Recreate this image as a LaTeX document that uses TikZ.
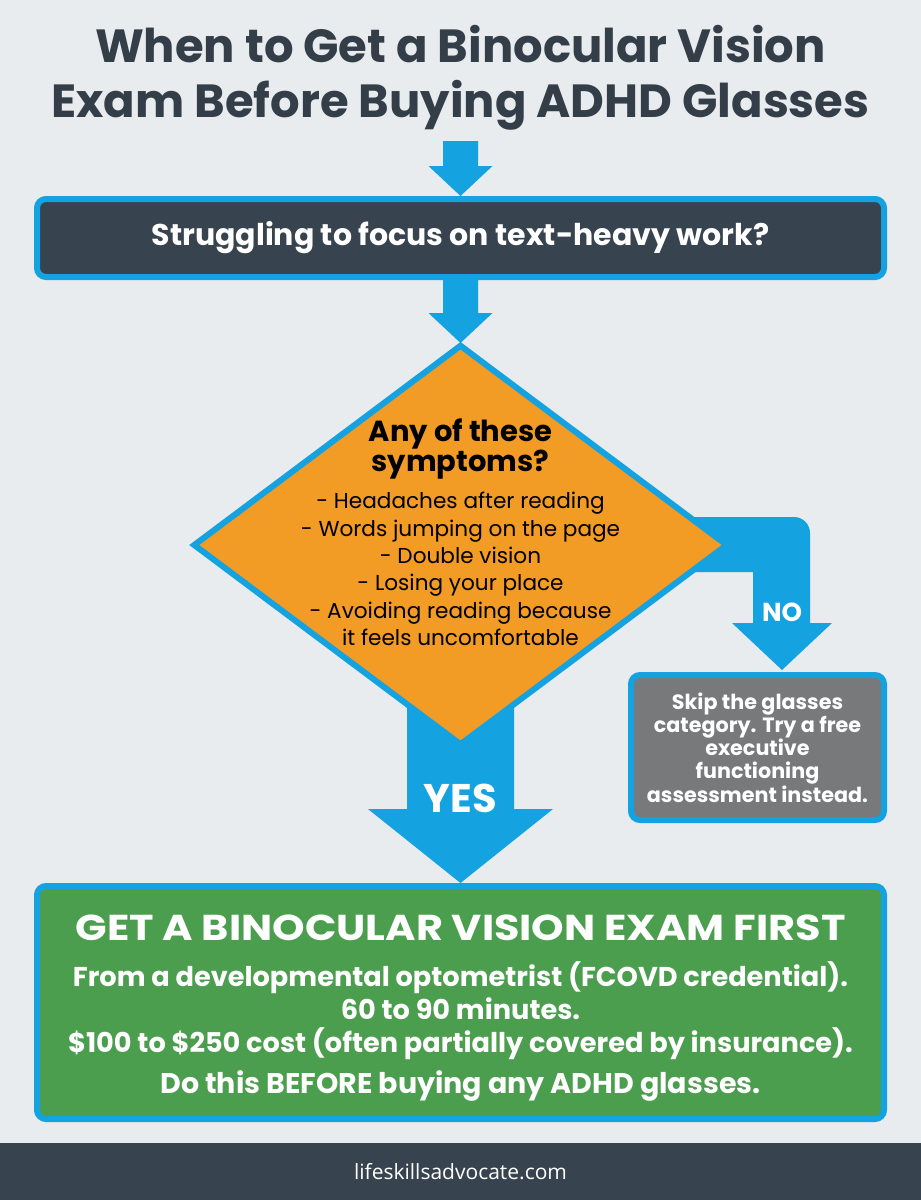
\documentclass[tikz,border=0pt]{standalone}
\usepackage{fontspec}
\setmainfont{Poppins}
\newfontfamily\footfont{Open Sans}
\usetikzlibrary{calc,shapes.geometric}
\definecolor{bgc}{HTML}{E9ECEE}
\definecolor{darkc}{HTML}{37434F}
\definecolor{titlec}{HTML}{343E48}
\definecolor{bluec}{HTML}{14A2E0}
\definecolor{orangec}{HTML}{F29B25}
\definecolor{grayc}{HTML}{77797B}
\definecolor{greenc}{HTML}{4B9E4E}
\newcommand\blockdown[5]{\fill[bluec] let \p1=(#1), \p2=(#2) in
 (\x1-#3pt,\y1) -- (\x1+#3pt,\y1) -- (\x1+#3pt,\y2+#5pt) -- (\x1+#4pt,\y2+#5pt)
 -- (\x1,\y2) -- (\x1-#4pt,\y2+#5pt) -- (\x1-#3pt,\y2+#5pt) -- cycle;}
\tikzset{
 panel/.style={draw=bluec, line width=6pt, rounded corners=9pt, inner sep=0pt},
 wtext/.style={text=white, align=center},
 titletext/.style={anchor=base, text=titlec, font=\fontsize{46.5}{50}\selectfont\bfseries},
}
\begin{document}
\begin{tikzpicture}[x=1pt,y=-1pt]
\fill[bgc] (0,0) rectangle (921,1200);
\useasboundingbox (0,0) rectangle (921,1200);
\fill[darkc] (0,1143) rectangle (921,1200);
\node[font=\footfont\fontsize{21}{24}\selectfont, text=white] (footer) at (460.5,1172) {lifeskillsadvocate.com};

% title
\node[titletext] (title1) at (460.5,62) {When to Get a Binocular Vision};
\node[titletext] (title2) at (460.5,117) {Exam Before Buying ADHD Glasses};

% boxes
\node[panel, fill=darkc, minimum width=847pt, minimum height=78pt, wtext,
      font=\fontsize{30}{32}\selectfont\bfseries] (q1) at (460.5,238) {Struggling to focus on text-heavy work?};
\node[panel, fill=grayc, minimum width=253pt, minimum height=145pt] (q3) at (757.5,747.5) {};
\node[panel, fill=greenc, minimum width=847pt, minimum height=233pt] (q4) at (460.5,1002.5) {};

% arrows
\coordinate (a1top) at (460.5,141);
\blockdown{a1top}{q1.north}{17.5}{32}{30}
\blockdown{q1.south}{460.5,343}{17.5}{32}{30}
\blockdown{460.5,600}{q4.north}{53.5}{92.5}{74}
\fill[bluec] (650,517) [rounded corners=16pt] -- (810,517) -- (810,560) [sharp corners]
  -- (810,623) -- (832,623) -- (782,670) -- (732,623) -- (753,623) -- (753,572) -- (650,572) -- cycle;

% diamond
\node[diamond, draw=bluec, line width=6pt, fill=orangec, minimum width=535pt, minimum height=401pt, inner sep=0pt] (q2) at (460.5,545) {};
\node[font=\fontsize{29}{28}\selectfont\bfseries, align=center, text=black] (q2h) at (460.5,449) {Any of these\\symptoms?};
\node[font=\fontsize{21.6}{27.4}\selectfont, align=center, text=black] (q2l) at (460.5,569) {- Headaches after reading\\- Words jumping on the page\\- Double vision\\- Losing your place\\- Avoiding reading because\\it feels uncomfortable};

% labels
\node[text=white, font=\fontsize{40}{42}\selectfont\bfseries] (yes) at (460.5,798) {YES};
\node[text=white, font=\fontsize{26}{28}\selectfont\bfseries] (no) at (782,612) {NO};

% gray box text
\node[wtext, font=\fontsize{20.7}{23.25}\selectfont\bfseries] (q3t) at (q3.center) {Skip the glasses\\category. Try a free\\executive\\functioning\\assessment instead.};

% green box text
\node[wtext, font=\fontsize{36}{38}\selectfont\bfseries] (q4h) at (460.5,928) {\scalebox{1.15}[1]{GET A BINOCULAR VISION EXAM FIRST}};
\node[wtext, font=\fontsize{27.2}{33}\selectfont\bfseries] (q4b) at (460.5,1011) {From a developmental optometrist (FCOVD credential).\\60 to 90 minutes.\\\$100 to \$250 cost (often partially covered by insurance).};
\node[wtext, font=\fontsize{28.5}{33}\selectfont\bfseries] (q4c) at (460.5,1086) {Do this BEFORE buying any ADHD glasses.};
\end{tikzpicture}
\end{document}
